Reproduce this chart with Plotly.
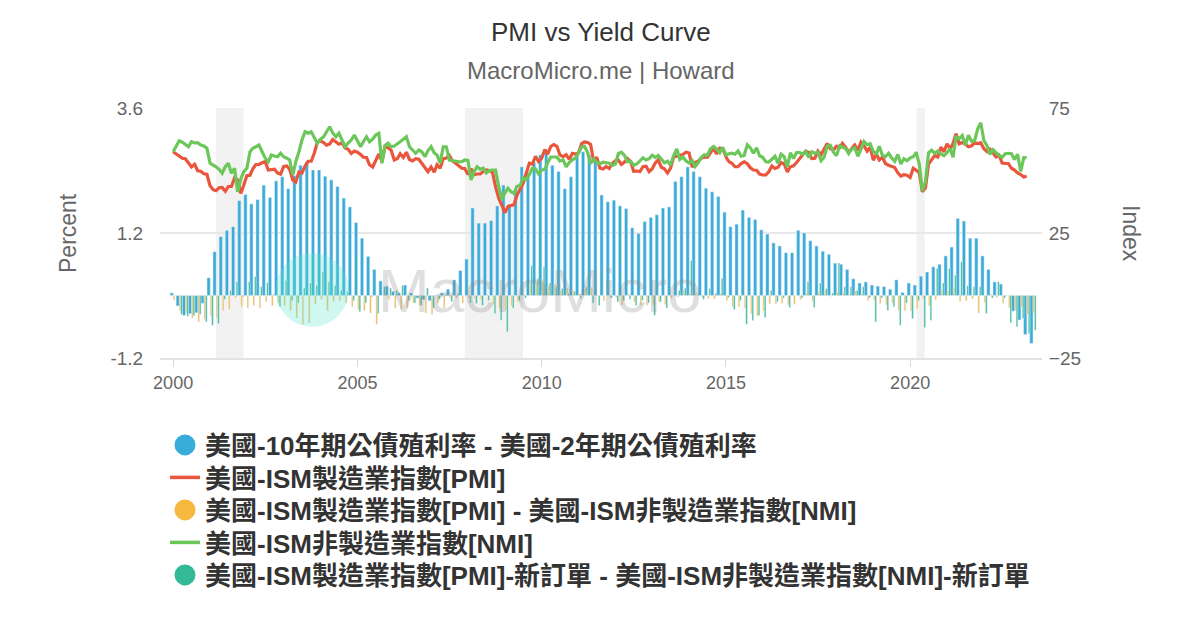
import plotly.graph_objects as go
import pandas as pd

# ---------------- data ----------------
# ISM manufacturing PMI (monthly, plotted from 2000-01)
pmi = [
    57.5, 56.7, 55.8, 54.9, 54.7, 53.2, 51.4, 52.5, 49.9, 49.7, 48.7, 48.5,
    43.9, 42.3, 41.9, 43.1, 43.2, 41.7, 43.6, 43.6, 47.0, 46.2, 40.8, 44.1,
    47.9, 48.1, 50.7, 52.4, 52.4, 53.1, 53.6, 50.2, 50.3, 50.5, 49.0, 48.5,
    51.6, 51.8, 50.5, 46.2, 45.4, 49.4, 49.0, 51.8, 53.7, 53.7, 57.0, 61.4,
    61.8, 61.2, 60.1, 60.6, 62.4, 61.4, 60.5, 61.1, 59.0, 58.5, 56.8, 57.8,
    57.3, 56.4, 55.3, 55.2, 52.3, 51.4, 53.8, 56.6, 53.6, 59.4, 59.1, 58.1,
    54.2, 54.8, 56.7, 55.2, 57.3, 54.4, 53.8, 54.7, 54.5, 52.9, 51.2, 49.5,
    51.4, 49.3, 52.3, 50.9, 54.7, 55.0, 56.0, 53.8, 52.9, 52.0, 50.9, 50.8,
    48.4, 50.7, 48.3, 48.6, 48.6, 49.6, 50.2, 50.0, 49.2, 43.5, 38.9, 36.2,
    33.1, 35.6, 35.8, 36.3, 40.1, 42.8, 44.8, 48.9, 52.9, 52.6, 55.7, 53.6,
    54.9, 58.4, 56.5, 59.6, 60.4, 59.7, 56.2, 55.5, 56.3, 54.4, 56.9, 56.6,
    57.0, 60.8, 61.4, 61.2, 60.4, 53.5, 55.3, 50.9, 50.6, 51.6, 50.8, 52.7,
    53.9, 54.1, 52.4, 53.4, 54.8, 53.5, 49.7, 49.8, 49.6, 51.5, 51.7, 49.5,
    50.7, 53.1, 54.2, 51.3, 50.7, 49.0, 50.9, 55.4, 55.7, 56.2, 56.4, 57.3,
    57.0, 51.3, 53.2, 53.7, 54.9, 55.4, 55.3, 57.1, 59.0, 56.6, 59.0, 58.7,
    55.5, 53.5, 52.9, 51.5, 51.5, 52.8, 53.5, 52.7, 51.1, 50.2, 50.1, 48.6,
    48.2, 48.2, 49.5, 51.8, 50.8, 51.3, 53.2, 52.6, 49.4, 51.5, 51.9, 53.2,
    54.7, 56.0, 57.7, 57.2, 54.8, 54.9, 57.8, 56.3, 58.8, 60.8, 58.7, 58.2,
    59.7, 59.1, 60.8, 59.3, 57.3, 58.7, 60.2, 58.1, 61.3, 59.8, 57.7, 59.3,
    54.1, 56.6, 54.2, 55.3, 52.8, 52.1, 51.7, 51.2, 49.1, 47.8, 48.3, 48.1,
    47.2, 50.9, 50.1, 49.1, 41.5, 43.1, 52.6, 54.2, 56.0, 55.4, 59.3, 57.5,
    60.7, 58.7, 60.8, 64.7, 60.7, 61.2, 60.6, 59.5, 59.9, 61.1, 60.8, 61.1,
    58.7, 57.6, 58.6, 57.1, 55.4, 56.1, 53.0, 52.8, 52.8, 50.9, 50.2, 49.0,
    48.4, 47.4, 47.7,
]

# ISM non-manufacturing index (monthly, plotted from 2000-01)
nmi = [
    57.5, 60.0, 61.9, 61.3, 60.5, 59.5, 61.5, 61.0, 61.1, 60.2, 59.8, 58.9,
    52.9, 52.2, 51.5, 50.5, 48.9, 51.5, 52.9, 48.9, 50.9, 41.5, 46.5, 49.5,
    50.9, 57.5, 58.9, 59.5, 60.2, 57.5, 55.0, 53.5, 56.2, 55.8, 55.5, 56.9,
    55.5, 54.9, 54.2, 48.2, 53.5, 57.5, 62.2, 65.5, 64.9, 65.5, 63.0, 60.9,
    62.5, 63.5, 65.5, 67.5, 65.0, 63.5, 64.9, 62.0, 59.5, 61.0, 62.2, 64.2,
    62.0, 59.5, 61.5, 63.5, 61.5, 62.5, 64.2, 64.9, 52.9, 60.0, 60.9, 59.5,
    59.8, 60.9, 61.5, 62.5, 63.5, 59.5, 58.0, 56.9, 58.2, 57.5, 55.5, 58.0,
    59.5, 57.0, 56.2, 52.9, 59.5, 59.5, 54.2, 54.0, 53.5, 53.5, 53.5, 54.2,
    54.0, 46.2, 49.5, 51.5, 50.5, 50.9, 49.0, 50.0, 50.2, 50.2, 43.5, 38.5,
    41.0, 42.9, 41.6, 40.8, 43.7, 44.0, 47.0, 46.4, 48.4, 50.9, 50.6, 48.7,
    50.1, 50.5, 53.0, 55.4, 55.4, 55.4, 53.8, 54.3, 51.5, 53.2, 54.3, 55.0,
    57.1, 59.4, 59.7, 57.3, 52.8, 54.6, 53.3, 52.7, 53.3, 53.0, 52.9, 52.0,
    52.6, 56.8, 57.3, 56.0, 53.5, 53.7, 52.1, 52.6, 53.7, 55.1, 54.2, 54.7,
    56.1, 55.2, 56.0, 54.4, 53.1, 53.7, 52.2, 56.0, 58.6, 54.4, 55.4, 53.9,
    53.0, 54.0, 51.6, 53.1, 55.2, 56.3, 56.0, 58.7, 59.6, 58.6, 57.1, 59.3,
    56.2, 56.7, 56.9, 56.5, 57.8, 55.7, 56.0, 60.3, 59.0, 56.9, 59.1, 55.9,
    55.3, 53.5, 53.4, 54.5, 55.7, 52.9, 56.5, 55.5, 51.4, 57.1, 54.8, 57.2,
    57.2, 56.5, 57.6, 55.2, 57.5, 56.9, 57.4, 53.9, 55.3, 59.8, 60.1, 57.4,
    55.9, 59.9, 59.5, 58.8, 56.8, 58.6, 59.1, 55.7, 58.5, 61.6, 60.3, 60.7,
    57.6, 56.7, 59.7, 56.1, 55.5, 56.9, 55.1, 53.7, 56.4, 52.6, 54.7, 53.9,
    55.0, 55.5, 57.3, 52.5, 41.8, 45.4, 57.1, 58.1, 56.9, 57.8, 56.6, 55.9,
    57.2, 58.7, 55.3, 63.7, 62.7, 64.0, 60.1, 64.1, 61.7, 61.9, 66.7, 69.1,
    62.0, 59.9, 56.5, 58.3, 57.1, 55.9, 55.3, 56.7, 56.9, 56.7, 54.4, 56.5,
    49.6, 55.2, 55.1,
]

# 10Y - 2Y spread (percent), bi-monthly columns from 2000-01
spread = [
    0.05, -0.2, -0.38, -0.35, -0.33, -0.15,
    0.34, 0.84, 1.13, 1.25, 1.32, 1.82,
    1.94, 1.76, 1.84, 2.12, 1.88, 2.2,
    2.28, 2.05, 2.3, 2.5, 2.57, 2.41,
    2.41, 2.29, 2.22, 2.09, 1.87, 1.7,
    1.4, 1.1, 0.75, 0.5, 0.28, 0.18,
    0.08, 0.05, 0.2, 0.05, -0.05, -0.08,
    -0.1, 0.0, 0.05, 0.12, 0.3, 0.48,
    0.7, 1.68, 1.39, 1.39, 1.44, 1.72,
    2.12, 1.75, 2.03, 2.47, 2.35, 2.55,
    2.7, 2.8, 2.5, 2.38, 2.05, 2.28,
    2.7, 2.76, 2.7, 2.63, 1.93, 1.8,
    1.83, 1.72, 1.67, 1.3, 1.19, 1.42,
    1.5, 1.55, 1.68, 1.7, 2.19, 2.28,
    2.47, 2.38, 2.28, 2.06, 1.99, 1.9,
    1.6, 1.32, 1.37, 1.64, 1.5, 1.46,
    1.26, 1.18, 1.01, 0.95, 0.82, 0.82,
    1.25, 1.2, 1.05, 0.95, 0.85, 0.79,
    0.62, 0.6, 0.5, 0.32, 0.24, 0.26,
    0.2, 0.18, 0.17, 0.12, 0.3, 0.06,
    0.24, 0.2, 0.37, 0.45, 0.55, 0.6,
    0.76, 0.93, 1.48, 1.43, 1.1, 1.1,
    0.76, 0.5, 0.26, 0.22, 0.0, -0.3,
    -0.47, -0.75, -0.92,
]

# PMI - NMI (index points), bi-monthly columns
pmi_minus_nmi = [
    -1.7, -6.0, -7.0, -9.0, -10.5, -9.5,
    -8.0, -9.0, -6.0, -5.5, -1.0, -4.5,
    -5.0, -4.0, -5.0, -2.5, -4.0, -3.0,
    -4.0, -6.0, -9.0, -11.5, -11.0, -3.5,
    -1.5, -6.0, -2.5, -2.0, -3.0, -4.5,
    -5.5, -6.0, -7.0, -11.5, 0.0, -1.5,
    -5.0, -5.5, -5.0, -3.0, -4.0, -7.0,
    -7.5, -3.0, -5.0, -1.0, -1.0, -3.0,
    -1.0, -1.5, -1.5, 0.5, -3.5, -5.0,
    -6.0, -4.0, -2.5, 0.5, 4.5, 5.0,
    6.3, 3.9, 4.6, 1.8, 3.0, 2.1,
    0.7, 2.8, 3.3, 0.1, -2.1, -0.7,
    -0.7, -3.8, 0.6, -2.6, -3.9, -3.9,
    -3.8, -2.5, -3.6, -1.0, -0.6, 2.2,
    0.7, 1.1, -0.6, -1.2, -1.3, 0.7,
    -2.0, -4.5, -4.6, -5.1, -7.3, -8.2,
    -6.2, -3.3, -3.3, -3.1, -3.8, -3.5,
    -1.5, 1.0, -2.3, 1.4, 2.2, -0.3,
    1.5, 0.9, 0.3, 1.8, 0.5, -2.0,
    -1.8, -3.2, -3.8, -3.0, -6.1, -6.1,
    -6.2, -5.3, -1.3, -4.2, -1.7, 2.2,
    1.8, 3.3, -2.4, -2.1, -1.3, -7.0,
    -2.8, 0.5, -0.8, -3.1, -5.0, -5.9,
    -4.5, -7.4, -7.0,
]

# PMI new orders - NMI new orders (index points), bi-monthly columns
new_orders_diff = [
    0.0, -7.5, -8.3, -8.0, -7.5, -10.5,
    -11.9, -11.2, -1.5, 2.0, 5.5, -0.5,
    5.5, 7.5, 3.5, 5.1, 0.5, -4.5,
    6.0, -2.0, -3.0, 3.0, 5.0, 4.0,
    9.5, 5.5, 4.0, 2.0, 1.5, -2.0,
    -6.5, -3.0, -0.5, -7.2, 3.5, 3.0,
    2.0, 4.0, -2.0, -3.0, -4.0, 3.0,
    -5.0, -1.5, 0.5, -2.5, 0.8, 0.0,
    -3.0, -3.2, -4.0, -2.0, -7.2, -9.9,
    -14.5, -5.0, -2.0, -1.0, 12.0, 6.8,
    11.5, 5.0, 3.5, 2.8, 0.8, 1.5,
    -1.2, 3.5, -3.0, -4.0, 0.0, -1.0,
    -2.5, -2.0, -1.5, -4.0, -2.0, -3.0,
    -7.9, -2.5, -5.0, 0.0, 2.0, 3.0,
    14.0, 0.0, -1.5, 2.8, 1.0, 6.8,
    -0.8, -5.6, -2.0, -11.5, -10.0, -7.9,
    -8.8, 2.0, -2.5, -1.0, -4.8, 0.0,
    -1.0, 5.5, -4.8, 5.0, 2.8, 1.0,
    13.0, 3.5, 3.5, 2.0, 3.5, -1.0,
    -10.5, -1.0, -6.0, -4.5, -11.9, -3.0,
    -9.2, -2.0, -12.8, -9.9, 10.8, 5.0,
    10.8, 8.1, 13.5, 4.0, 3.5, 3.5,
    -7.2, -1.0, 5.5, -1.0, -10.9, -12.5,
    -9.2, -15.2, -13.9,
]

recessions = [("2001-03-01", "2001-11-30"), ("2007-12-01", "2009-06-30"), ("2020-03-05", "2020-05-25")]
x_ticks = ["2000", "2005", "2010", "2015", "2020"]
left_ticks = [-1.2, 1.2, 3.6]
right_ticks = [-25, 25, 75]

names = [
    "美國-10年期公債殖利率 - 美國-2年期公債殖利率",
    "美國-ISM製造業指數[PMI]",
    "美國-ISM製造業指數[PMI] - 美國-ISM非製造業指數[NMI]",
    "美國-ISM非製造業指數[NMI]",
    "美國-ISM製造業指數[PMI]-新訂單 - 美國-ISM非製造業指數[NMI]-新訂單",
]

# ---------------- style ----------------
BLUE = "#3aacd9"
RED = "#e9553d"
ORANGE = "#f6b83e"
GREEN = "#6cc75a"
TEAL = "#33b996"
DAY = 86400000
FONT = "Liberation Sans, Arial, Noto Sans CJK TC, sans-serif"

line_dates = pd.date_range("2000-01-01", periods=len(pmi), freq="MS")
bar_dates = pd.date_range("2000-01-01", periods=len(spread), freq="2MS")

fig = go.Figure()

fig.add_trace(go.Bar(x=bar_dates, y=spread, yaxis="y", marker_color=BLUE,
                     width=32 * DAY, offset=-30 * DAY, showlegend=False, name=names[0]))
fig.add_trace(go.Bar(x=bar_dates, y=pmi_minus_nmi, yaxis="y2", marker_color=ORANGE,
                     width=15 * DAY, offset=2 * DAY, showlegend=False, name=names[2]))
fig.add_trace(go.Bar(x=bar_dates, y=new_orders_diff, yaxis="y2", marker_color=TEAL,
                     width=16 * DAY, offset=16 * DAY, showlegend=False, name=names[4]))
fig.add_trace(go.Scatter(x=line_dates, y=pmi, yaxis="y2", mode="lines",
                         line=dict(color=RED, width=3.2), showlegend=False, name=names[1]))
fig.add_trace(go.Scatter(x=line_dates, y=nmi, yaxis="y2", mode="lines",
                         line=dict(color=GREEN, width=3.2), showlegend=False, name=names[3]))

# legend entries (circle for columns, line for lines), one legend box per row
legend_styles = [("marker", BLUE), ("line", RED), ("marker", ORANGE), ("line", GREEN), ("marker", TEAL)]
legend_ids = ["legend", "legend2", "legend3", "legend4", "legend5"]
row_px = [445, 477.5, 510, 542.5, 575]
PLOT_TOP, PLOT_BOTTOM, PLOT_LEFT, PLOT_RIGHT = 108, 358, 160, 1042
for i, (kind, col) in enumerate(legend_styles):
    if kind == "marker":
        fig.add_trace(go.Scatter(x=[None], y=[None], mode="markers", name=names[i],
                                 marker=dict(size=16, color=col, line=dict(width=5, color=col)),
                                 legend=legend_ids[i], showlegend=True))
    else:
        fig.add_trace(go.Scatter(x=[None], y=[None], mode="lines", name=names[i],
                                 line=dict(color=col, width=3.5),
                                 legend=legend_ids[i], showlegend=True))

legend_layout = {}
for i, lid in enumerate(legend_ids):
    legend_layout[lid] = dict(
        orientation="v", x=5 / (PLOT_RIGHT - PLOT_LEFT), xanchor="left",
        y=(PLOT_BOTTOM - row_px[i]) / (PLOT_BOTTOM - PLOT_TOP), yanchor="middle",
        font=dict(size=26, color="#333333", family=FONT, weight="bold"),
        itemwidth=30, bgcolor="rgba(0,0,0,0)", borderwidth=0)

shapes = []
for a, b in recessions:
    shapes.append(dict(type="rect", xref="x", yref="paper", x0=a, x1=b, y0=0, y1=1,
                       fillcolor="#f2f2f2", line=dict(width=0), layer="below"))
# watermark logo circle
shapes.append(dict(type="circle", xref="paper", yref="paper", x0=0.131, x1=0.214, y0=0.125, y1=0.42,
                   fillcolor="rgba(90,225,205,0.28)", line=dict(width=0), layer="above"))

fig.update_layout(
    width=1200, height=630, autosize=False,
    margin=dict(l=PLOT_LEFT, r=1200 - PLOT_RIGHT, t=PLOT_TOP, b=630 - PLOT_BOTTOM, pad=0),
    paper_bgcolor="white", plot_bgcolor="white",
    barmode="overlay",
    font=dict(family=FONT, color="#666666", size=18),
    showlegend=True,
    xaxis=dict(type="date", range=["1999-08-24", "2023-07-31"],
               tickvals=[f"{t}-01-01" for t in x_ticks], ticktext=x_ticks,
               showgrid=False, showline=True, linecolor="#e3e3e3", linewidth=2,
               ticks="outside", ticklen=7, tickcolor="#d9d9d9", tickwidth=1,
               tickfont=dict(size=18, color="#666666"), ticklabelstandoff=0,
               zeroline=False, fixedrange=True),
    yaxis=dict(range=[-1.2, 3.6], tickvals=left_ticks, ticktext=[str(v) for v in left_ticks],
               showgrid=True, gridcolor="#e8e8e8", gridwidth=2, zeroline=False,
               ticks="outside", ticklen=12, tickcolor="rgba(0,0,0,0)",
               tickfont=dict(size=19, color="#666666"), showline=False),
    yaxis2=dict(range=[-25, 75], overlaying="y", side="right", tickvals=right_ticks,
                showgrid=False, zeroline=False, ticks="outside", ticklen=2,
                tickcolor="rgba(0,0,0,0)", tickfont=dict(size=19, color="#666666"),
                showline=False),
    shapes=shapes,
    annotations=[
        dict(text="PMI vs Yield Curve", xref="paper", yref="paper", x=0.5, y=1, xanchor="center",
             yanchor="middle", yshift=(PLOT_TOP - 32), showarrow=False,
             font=dict(size=26, color="#333333", family=FONT)),
        dict(text="MacroMicro.me | Howard", xref="paper", yref="paper", x=0.5, y=1, xanchor="center",
             yanchor="middle", yshift=(PLOT_TOP - 70), showarrow=False,
             font=dict(size=24, color="#666666", family=FONT)),
        dict(text="Percent", xref="paper", yref="paper", x=0, y=0.5, xanchor="center",
             yanchor="middle", xshift=-(PLOT_LEFT - 68), textangle=-90, showarrow=False,
             font=dict(size=23, color="#666666", family=FONT)),
        dict(text="Index", xref="paper", yref="paper", x=1, y=0.5, xanchor="center",
             yanchor="middle", xshift=(1131 - PLOT_RIGHT), textangle=90, showarrow=False,
             font=dict(size=23, color="#666666", family=FONT)),
        dict(text="MacroMicro", xref="paper", yref="paper", x=0.431, y=0.27, xanchor="center",
             yanchor="middle", showarrow=False,
             font=dict(size=62, color="rgba(140,140,140,0.28)", family=FONT)),
    ],
    **legend_layout,
)

fig.write_html("out.html")
